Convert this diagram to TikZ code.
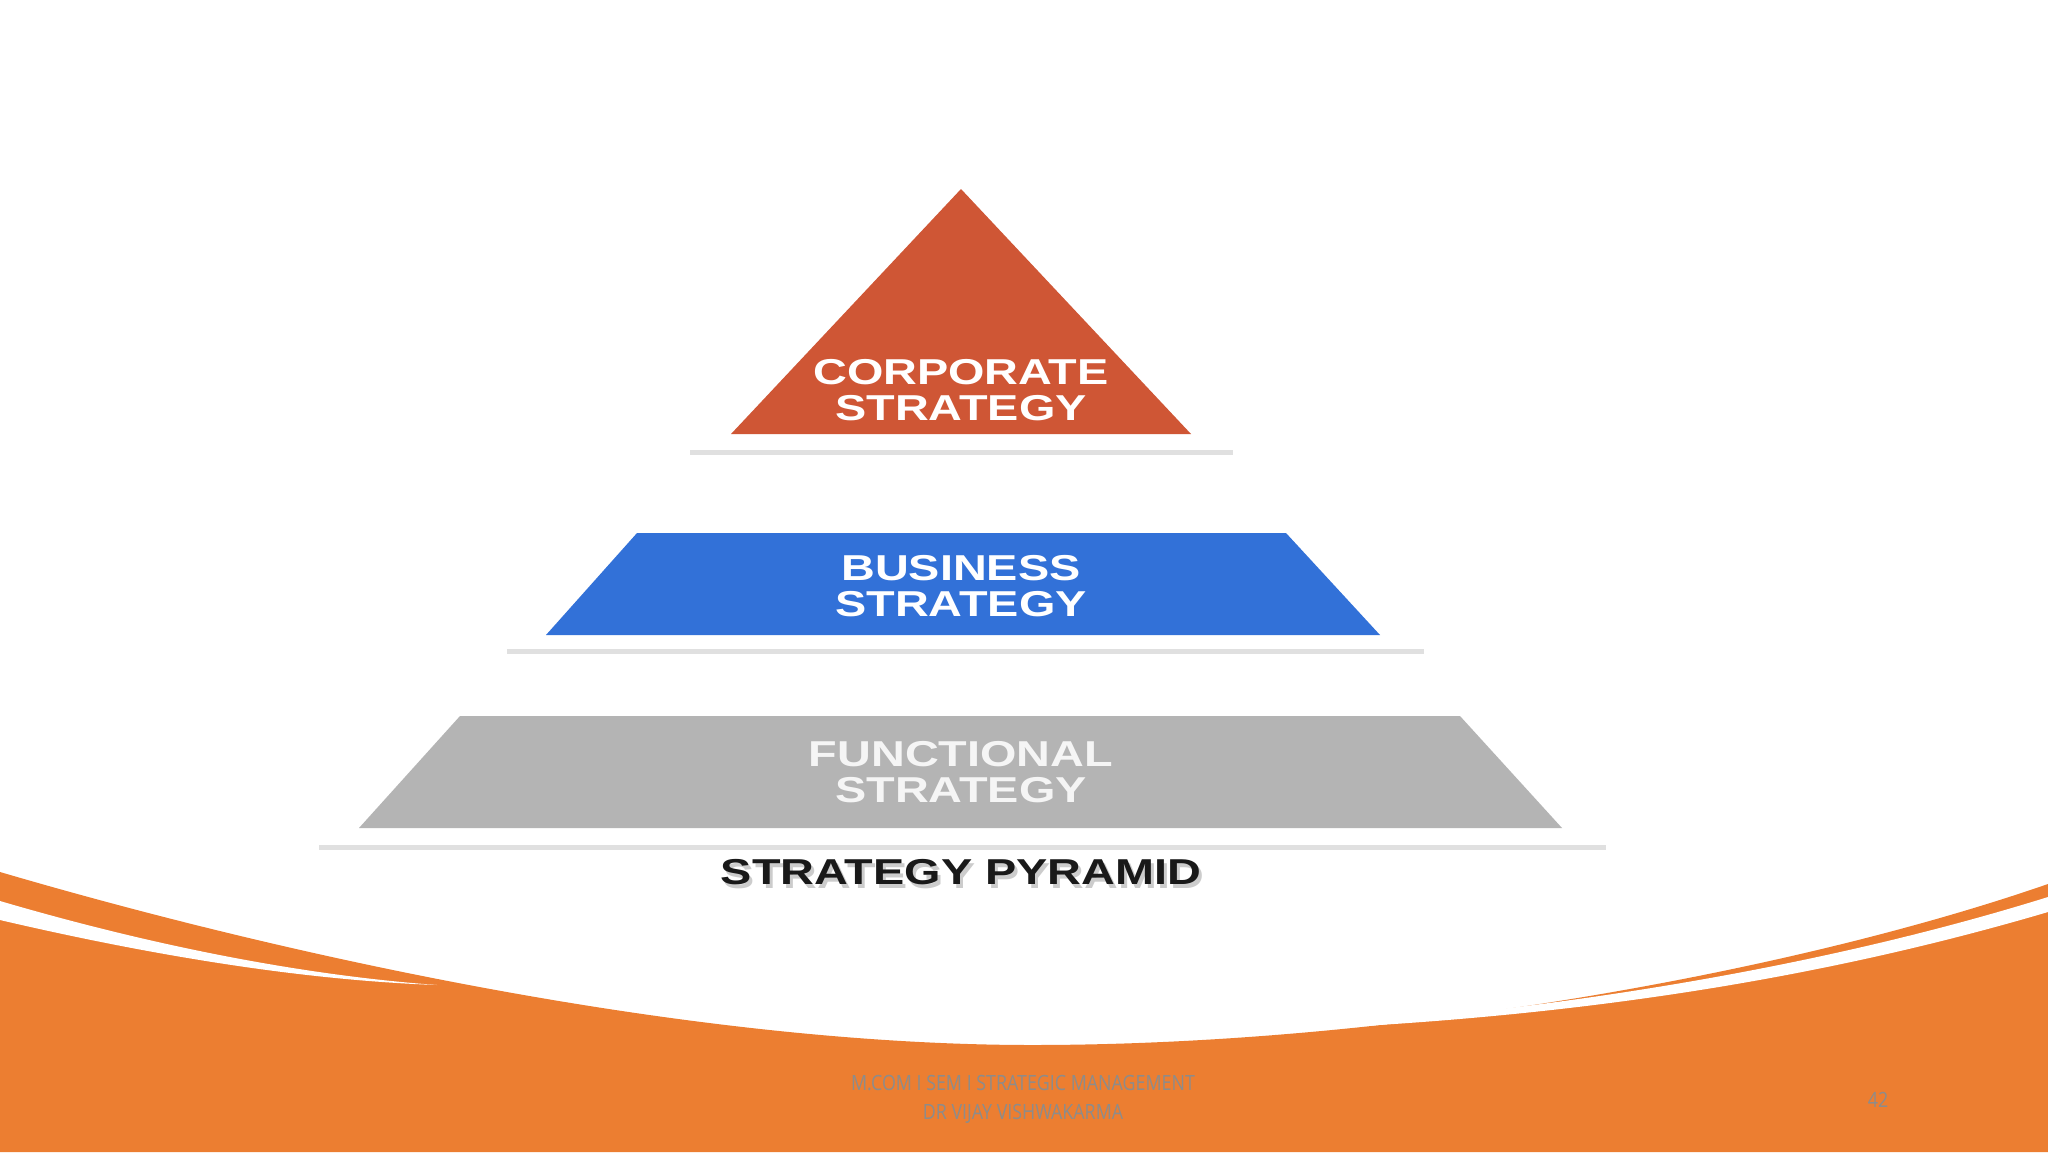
\documentclass[tikz,border=0pt]{standalone}
\usepackage{fontspec}
\setmainfont{Liberation Sans}
\newfontfamily\footfont{Open Sans}
\definecolor{corp}{HTML}{CF5635}
\definecolor{bus}{HTML}{3271D8}
\definecolor{func}{HTML}{B4B4B4}
\definecolor{band}{HTML}{EC7E31}
\definecolor{foot}{HTML}{8C8C8C}
\begin{document}
\begin{tikzpicture}[x=1pt,y=-1pt,
  lbl/.style={font=\bfseries\fontsize{36}{42}\selectfont, text=white, xscale=1.3, align=center, inner sep=0pt},
  shade/.style={draw=black!12, line width=5pt},
  ftxt/.style={font=\footfont\fontsize{21}{30}\selectfont, text=foot, xscale=0.85, align=center}]
\useasboundingbox (0,0) rectangle (2048,1152);
\fill[white] (0,0) rectangle (2048,1152);
% shadows
\draw[shade] (690,452) -- (1233,452);
\draw[shade] (507,651) -- (1424,651);
\draw[shade] (319,847) -- (1606,847);
% pieces
\fill[corp] (961,189) -- (1191,434) -- (731,434) -- cycle;
\fill[bus] (637,533) -- (1286,533) -- (1380,635) -- (546,635) -- cycle;
\fill[func] (460,716) -- (1460,716) -- (1562,828) -- (359,828) -- cycle;
\node[lbl] (corporate) at (961,390) {CORPORATE\\[-6pt]STRATEGY};
\node[lbl] (business) at (961,586) {BUSINESS\\[-6pt]STRATEGY};
\node[lbl, text=white!96!black] (functional) at (961,772) {FUNCTIONAL\\[-6pt]STRATEGY};
\node[lbl, text=black!25, xscale=1] at (963,875) {\phantom{x}};
\node[lbl, text=black!20] at (964,876) {STRATEGY PYRAMID};
\node[lbl, text=black!90] (title) at (961,872) {STRATEGY PYRAMID};
% orange band
\fill[band] (0,872) .. controls (300,960) and (700,1045) .. (1032,1045)
  .. controls (1400,1045) and (1800,970) .. (2048,884) -- (2048,1152) -- (0,1152) -- cycle;
\fill[white] (0,901) .. controls (150,945) and (300,975) .. (437,985)
  .. controls (300,980) and (150,955) .. (0,920) -- cycle;
\fill[white] (2048,897) .. controls (1750,990) and (1400,1030) .. (1136,1034)
  .. controls (1450,1030) and (1750,1000) .. (2048,912) -- cycle;
\node[ftxt] (f1) at (1023,1083) {M.COM I SEM I STRATEGIC MANAGEMENT};
\node[ftxt] (f2) at (1023,1114) {DR VIJAY VISHWAKARMA};
\node[ftxt] (pg) at (1878,1100) {42};
\end{tikzpicture}
\end{document}
